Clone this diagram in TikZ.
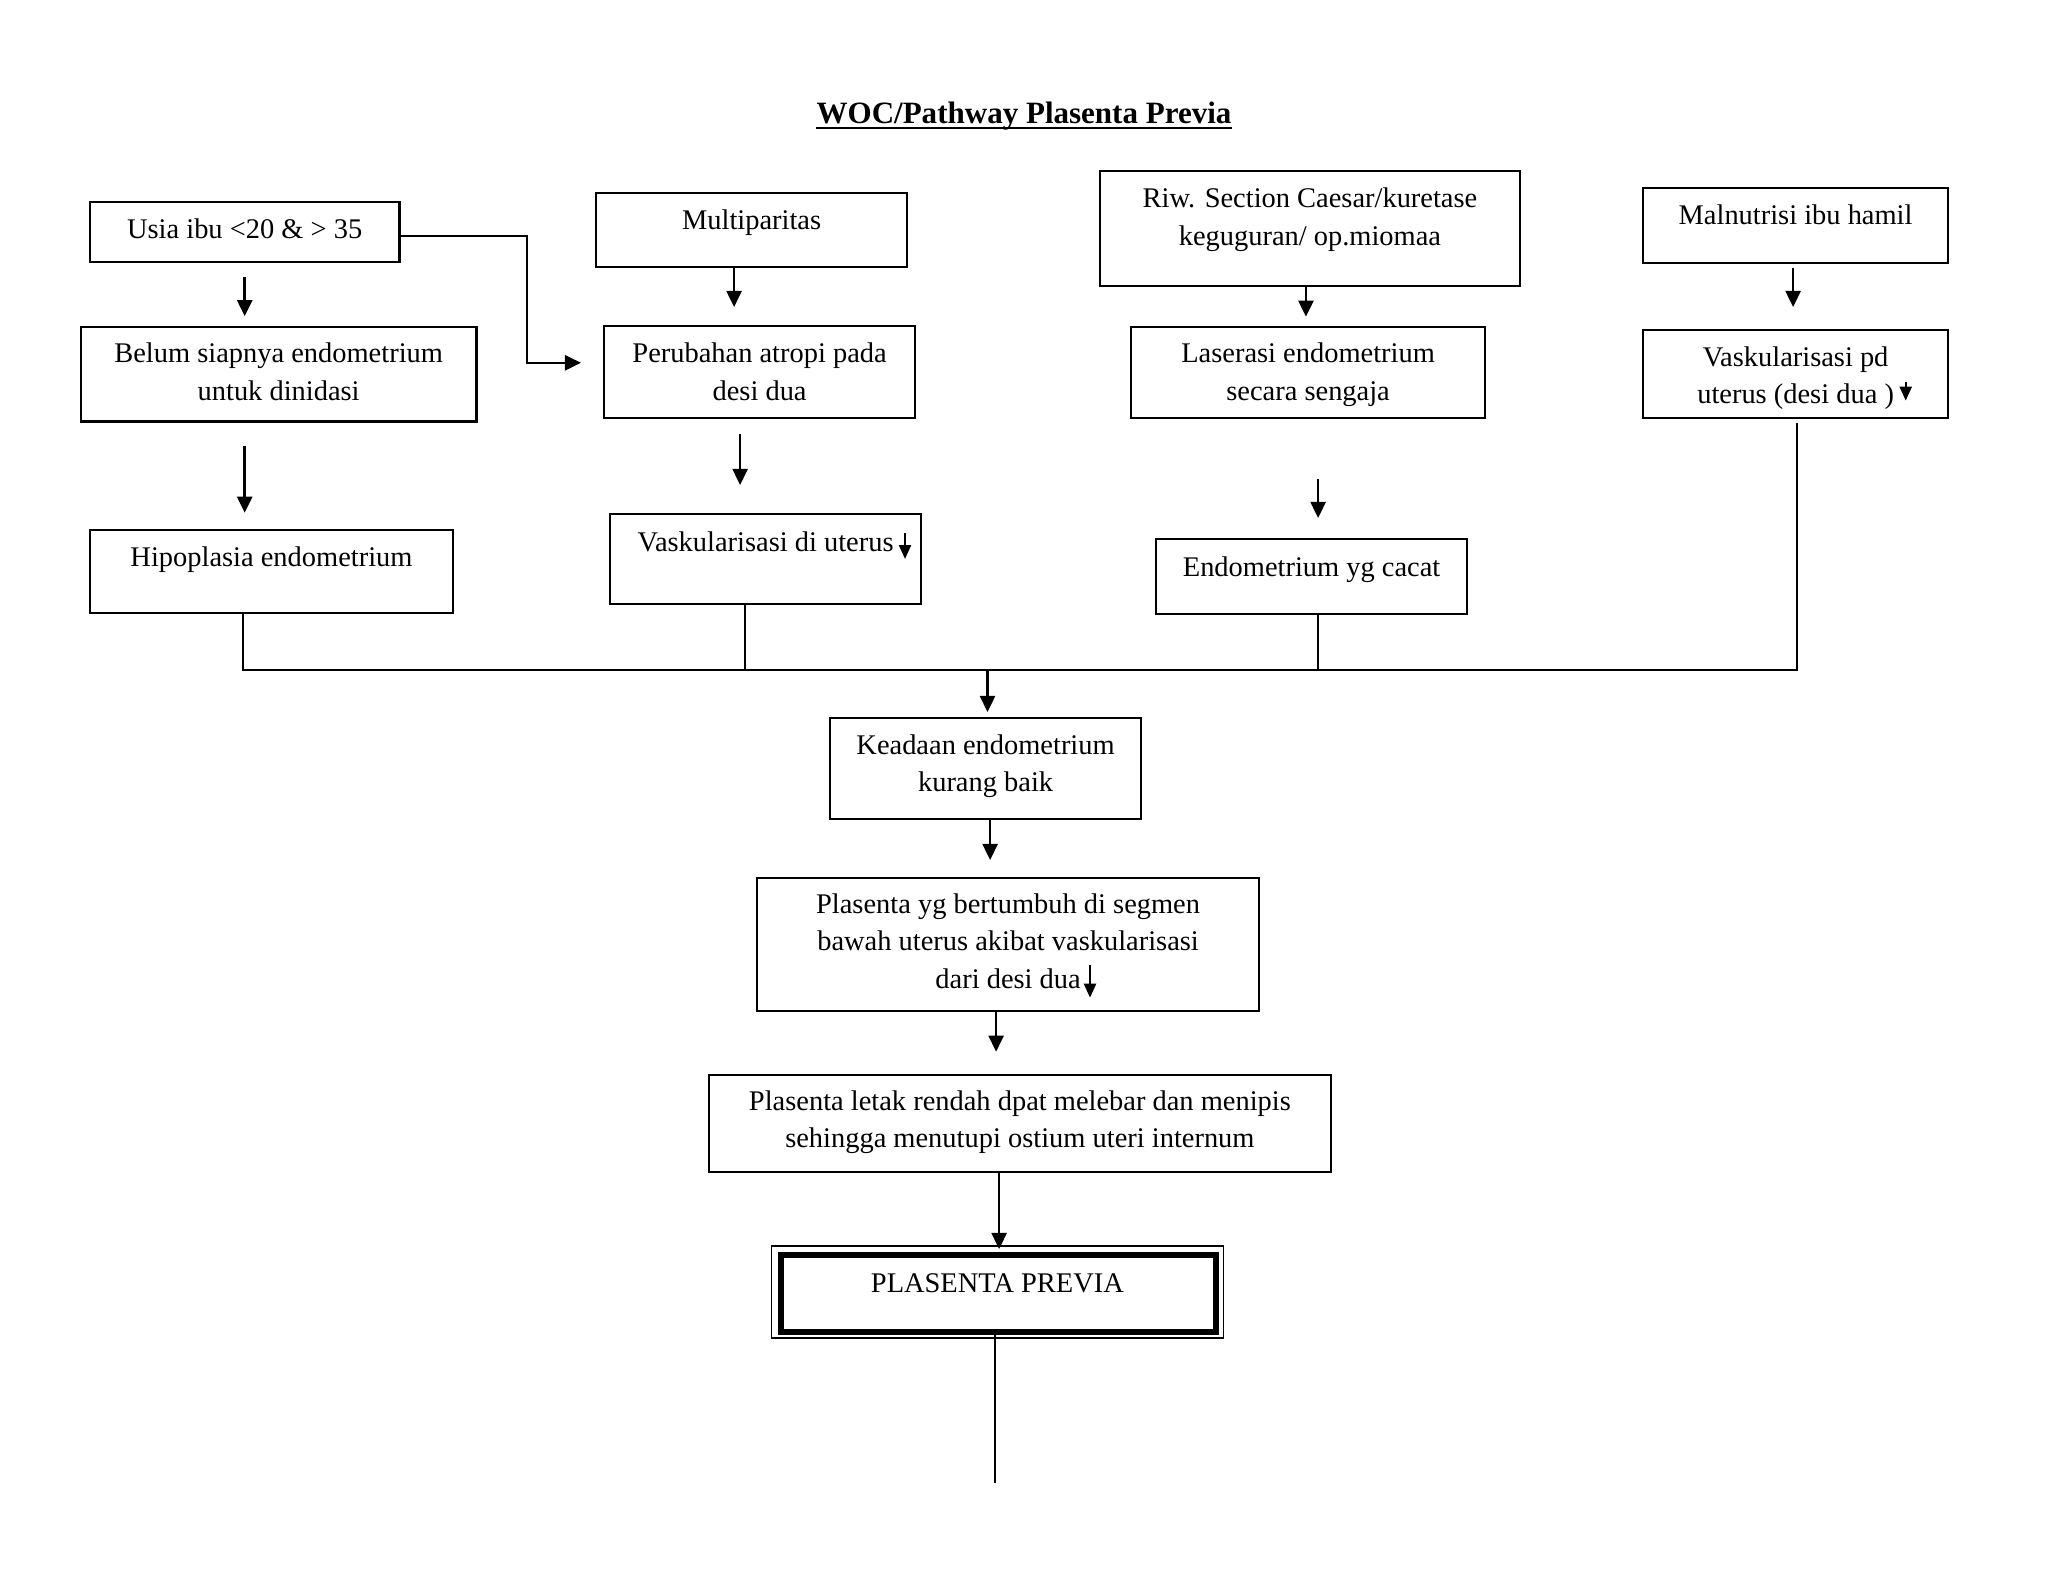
\documentclass[tikz,border=0pt]{standalone}
\usepackage{fontspec}
\setmainfont{Liberation Serif}
\usetikzlibrary{arrows.meta}
\newdimen\pu \pu=0.386719pt
\newcommand{\bxt}[4]{\parbox[t][#2\pu][t]{#1\pu}{\fontsize{11pt}{37.4\pu}\selectfont\centering\rule{0pt}{#3\pu}#4\par}}
\tikzset{
  box/.style={draw, line width=0.85pt, inner sep=0pt, anchor=north west},
  ln/.style={line width=0.95pt},
  arr/.style={line width=0.95pt, -{Triangle[width=5.8pt,length=6.2pt]}},
  sarr/.style={line width=0.95pt, -{Triangle[width=4.6pt,length=5.4pt]}},
}
\begin{document}
\begin{tikzpicture}[x=0.386719pt, y=-0.386719pt]
\path[fill=white] (0,0) rectangle (2048,1582);
\useasboundingbox (0,0) rectangle (2048,1582);

\node[font=\fontsize{12pt}{14pt}\selectfont\bfseries, anchor=base, inner sep=0pt] (title) at (1024,124) {WOC/Pathway Plasenta Previa};
\draw[line width=0.97pt] ([yshift=-1.5pt]title.base west) -- ([yshift=-1.5pt]title.base east);

\node[box] (usia) at (88.8,201) {\bxt{309.6}{60.2}{36.7}{Usia ibu <20 \& > 35}};
\node[box] (belum) at (79.7,326) {\bxt{395.7}{94.5}{35.7}{Belum siapnya endometrium\\untuk dinidasi}};
\node[box] (hipo) at (88.8,529) {\bxt{363.2}{82.5}{36}{Hipoplasia endometrium}};

\node[box] (multi) at (595,192) {\bxt{311}{74}{36.3}{Multiparitas}};
\node[box] (perub) at (603,325) {\bxt{311}{92}{36.7}{Perubahan atropi pada\\desi dua}};
\node[box] (vask1) at (609,513) {\bxt{311}{90}{37}{Vaskularisasi di uterus}};

\node[box] (riw) at (1099,170) {\bxt{419.7}{114.7}{36.7}{Riw. Section Caesar/kuretase\\keguguran/ op.miomaa}};
\node[box] (laser) at (1130,325.7) {\bxt{354}{91}{36}{Laserasi endometrium\\secara sengaja}};
\node[box] (cacat) at (1155,538) {\bxt{311}{75}{37}{Endometrium yg cacat}};

\node[box] (maln) at (1642,187) {\bxt{305}{75}{36.3}{Malnutrisi ibu hamil}};
\node[box] (vaskpd) at (1642,329) {\bxt{305}{88}{36}{Vaskularisasi pd\\uterus (desi dua )}};

\node[box] (keadaan) at (829,717) {\bxt{311}{101}{36.3}{Keadaan endometrium\\kurang baik}};
\node[box] (plas1) at (756,876.7) {\bxt{502}{133.3}{35.6}{Plasenta yg bertumbuh di segmen\\bawah uterus akibat vaskularisasi\\dari desi dua}};
\node[box] (plas2) at (708,1074) {\bxt{621.6}{96.5}{35.3}{Plasenta letak rendah dpat melebar dan menipis\\sehingga menutupi ostium uteri internum}};
\node[box, line width=0.58pt] (previa) at (770.5,1245) {\bxt{452.3}{92}{46.7}{PLASENTA PREVIA}};
\draw[line width=2.32pt] ([xshift=4.06pt,yshift=-3.87pt]previa.north west) rectangle ([xshift=-3.4pt,yshift=2.7pt]previa.south east);

% small down arrows inside texts
\draw[sarr] ([xshift=114.47pt,yshift=-7.85pt]vask1.north west) -- ++(0,25.7);
\draw[sarr] ([xshift=101.98pt,yshift=-20.6pt]vaskpd.north west) -- ++(0,18.4);
\draw[sarr] ([xshift=129.16pt,yshift=-34.15pt]plas1.north west) -- ++(0,32.7);

% column 1
\draw[arr, shorten <=5.41pt, shorten >=3.79pt] (usia.south) -- (usia.south |- belum.north);
\coordinate (b1) at (belum.south -| usia.south);
\draw[arr, shorten <=9.09pt, shorten >=6.3pt] (b1) -- (b1 |- hipo.north);
\draw[arr, shorten >=8.5pt] ([yshift=-1.55pt]usia.east) -- ++(126.6,0) |- ([yshift=3.6pt]perub.west);

% column 2
\coordinate (m1) at ([xshift=-6.77pt]multi.south);
\draw[arr, shorten >=6.96pt] (m1) -- (m1 |- perub.north);
\coordinate (p1) at ([xshift=-7.54pt]perub.south);
\draw[arr, shorten <=5.8pt, shorten >=10.83pt] (p1) -- (p1 |- vask1.north);

% column 3
\coordinate (r1) at ([xshift=-1.55pt]riw.south);
\draw[arr, shorten >=3.48pt] (r1) -- (r1 |- laser.north);
\coordinate (l1) at ([xshift=3.87pt]laser.south);
\draw[arr, shorten <=23.3pt, shorten >=7.73pt] (l1) -- (l1 |- cacat.north);

% column 4
\coordinate (n1) at ([xshift=-0.97pt]maln.south);
\draw[arr, shorten <=1.55pt, shorten >=8.5pt] (n1) -- (n1 |- vaskpd.north);

% merge
\coordinate (mg) at (987.5,670);
\draw[ln] ([xshift=-10.98pt]hipo.south) |- (mg);
\draw[ln] ([xshift=-7.93pt]vask1.south) |- (mg);
\draw[ln] ([xshift=2.51pt]cacat.south) |- (mg);
\draw[ln] ([xshift=0.46pt,yshift=-1.43pt]vaskpd.south) |- (mg);
\draw[arr, shorten >=1.93pt] (mg) -- (mg |- keadaan.north);

% central chain
\coordinate (k1) at ([xshift=1.74pt]keadaan.south);
\draw[arr, shorten >=6.46pt] (k1) -- (k1 |- plas1.north);
\coordinate (q1) at ([xshift=-4.64pt]plas1.south);
\draw[arr, shorten >=8.62pt] (q1) -- (q1 |- plas2.north);
\coordinate (q2) at ([xshift=-8.04pt]plas2.south);
\draw[arr, shorten >=-1.55pt] (q2) -- (q2 |- previa.north);
\coordinate (endpt) at (995,1482.7);
\coordinate (pb) at ([yshift=1.55pt]previa.south);
\draw[ln] (pb -| endpt) -- (endpt);
\end{tikzpicture}
\end{document}
